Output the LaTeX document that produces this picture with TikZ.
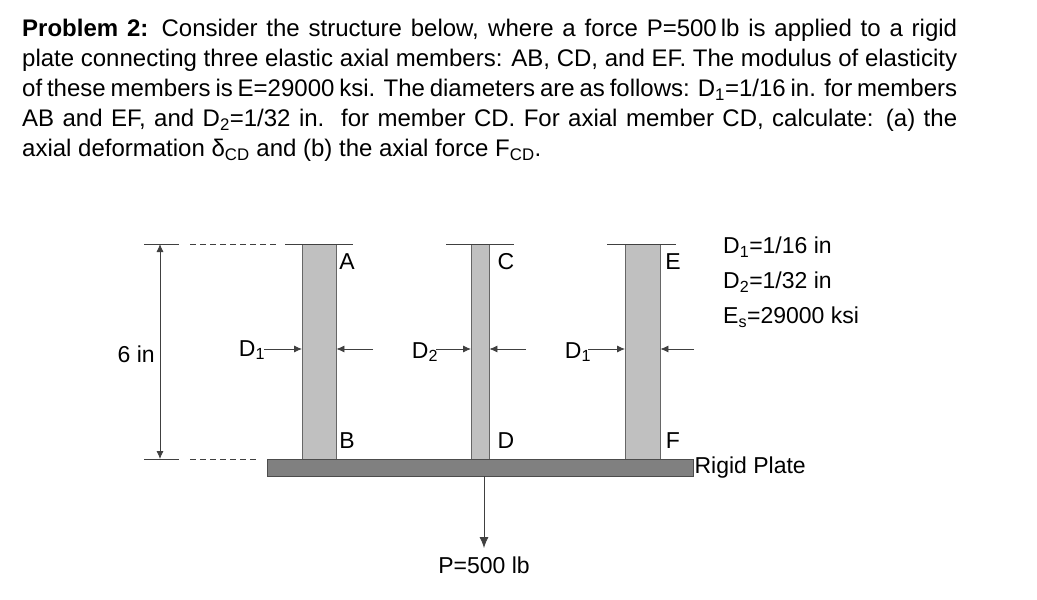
\documentclass[tikz,border=0pt]{standalone}
\usepackage{fontspec}
\setmainfont{Liberation Sans}
\usetikzlibrary{positioning, arrows.meta}
\definecolor{barfill}{RGB}{192,192,192}
\definecolor{platefill}{RGB}{128,128,128}
\hyphenpenalty=10000
\begin{document}
\begin{tikzpicture}
    [x=1pt, y=-1pt,
    member/.style={rectangle, draw=black!60, fill=barfill, minimum height=215pt, inner sep=0pt, anchor=north west},
    lbl/.style={font=\fontsize{23}{26}\selectfont, inner sep=1pt},
    thin line/.style={draw=black!75, line width=0.8pt},
    arrow/.style={thin line, -{Latex[length=8pt,width=7pt]}}]
    \useasboundingbox (0,0) rectangle (1037,600);
    \node [anchor=north west, text width=935pt, align=justify, inner sep=0pt,
    font=\fontsize{24}{30}\selectfont] (problem) at (22,19)
    {\textbf{Problem 2:} Consider the structure below, where a force P=500\,lb is applied to a rigid\linebreak
    plate connecting three elastic axial members: AB, CD, and EF. The modulus of elasticity\linebreak
    of these members is E=29000 ksi. The diameters are as follows: D\textsubscript{1}=1/16 in. for members\linebreak
    AB and EF, and D\textsubscript{2}=1/32 in.\ \ for member CD. For axial member CD, calculate: (a) the\linebreak
    axial deformation δ\textsubscript{CD} and (b) the axial force F\textsubscript{CD}.};

    % members and plate
    \node [member, minimum width=34pt] (ab) at (302,244) {};
    \node [member, minimum width=18pt] (cd) at (471,244) {};
    \node [member, minimum width=35pt] (ef) at (625,244) {};
    \node [rectangle, draw=black!70, fill=platefill, minimum width=426pt, minimum height=17pt,
    inner sep=0pt, anchor=north west] (plate) at (267,459) {};
    \node [lbl, anchor=west] (plabel) at (plate.east) {Rigid Plate};

    % end labels
    \node [lbl] (a) at (347,262) {A};
    \node [lbl] (b) at (347,441) {B};
    \node [lbl] (c) at (506,262) {C};
    \node [lbl] (d) at (506,441) {D};
    \node [lbl] (e) at (673,262) {E};
    \node [lbl] (f) at (673,441) {F};
    \draw [thin line] (285,244) -- (353,244);
    \draw [thin line] (446,244) -- (514,244);
    \draw [thin line] (607,244) -- (676,244);

    % height dimension
    \coordinate (top) at (160,244);
    \coordinate (bot) at (160,459);
    \draw [thin line] (144,244) -- (179,244);
    \draw [thin line] (144,459) -- (179,459);
    \draw [thin line, dashed, dash pattern=on 6pt off 4pt] (190,244) -- (276,244);
    \draw [thin line, dashed, dash pattern=on 6pt off 4pt] (190,459) -- (258,459);
    \draw [thin line, {Latex[length=8pt,width=7pt]}-{Latex[length=8pt,width=7pt]}] (top) -- (bot);
    \node [lbl, anchor=east] (height) at (156,354) {6 in};

    % diameters
    \node [lbl] (d1a) at (252,350) {D\textsubscript{1}};
    \node [lbl] (d2) at (425,352) {D\textsubscript{2}};
    \node [lbl] (d1b) at (578,352) {D\textsubscript{1}};
    \draw [arrow] (264,349) -- (ab.west |- 0,349);
    \draw [arrow] (373,349) -- (ab.east |- 0,349);
    \draw [arrow] (436,349) -- (cd.west |- 0,349);
    \draw [arrow] (526,349) -- (cd.east |- 0,349);
    \draw [arrow] (588,349) -- (ef.west |- 0,349);
    \draw [arrow] (694,349) -- (ef.east |- 0,349);

    % load
    \node [lbl] (load) at (484,565) {P=500 lb};
    \draw [arrow, -{Latex[length=11pt,width=9pt]}] (plate.south -| 484,0) -- (484,548);

    % properties
    \node [lbl, anchor=west] (p1) at (722,247) {D\textsubscript{1}=1/16 in};
    \node [lbl, anchor=west] (p2) at (722,282) {D\textsubscript{2}=1/32 in};
    \node [lbl, anchor=west] (p3) at (722,317) {E\textsubscript{s}=29000 ksi};
\end{tikzpicture}
\end{document}
